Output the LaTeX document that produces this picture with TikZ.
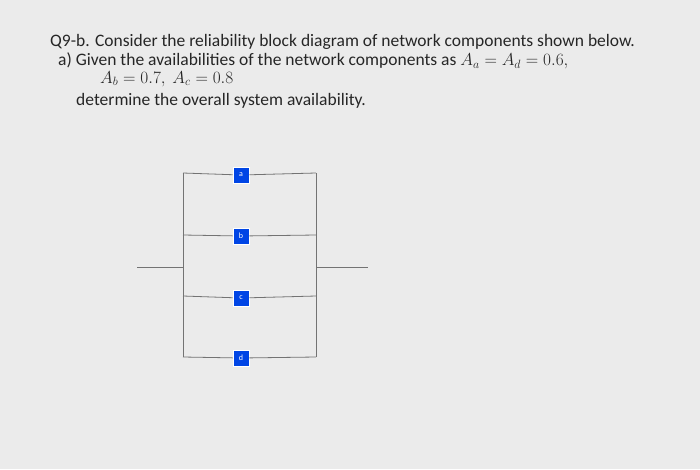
\documentclass[tikz,border=0pt]{standalone}
\usepackage{fontspec}
\setmainfont{Carlito}
\begin{document}
\begin{tikzpicture}[x=1pt,y=-1pt,
  txt/.style={anchor=west,inner sep=0,font=\fontsize{17.5}{18}\selectfont,text=black!85},
  blk/.style={draw=white,line width=0.8pt,fill=blue!70!cyan!90!black,minimum size=16pt,inner sep=0,text=white,font=\fontsize{8}{9}\selectfont},
  ln/.style={draw=black!55,line width=0.8pt}]
\fill[black!8] (0,0) rectangle (700,469);
\useasboundingbox (0,0) rectangle (700,469);
\node[txt] (t1) at (50,42) {Q9-b. Consider the reliability block diagram of network components shown below.};
\node[txt] (t2) at (58,61) {a) Given the availabilities of the network components as $A_a=A_d=0.6,$};
\node[txt] (t3) at (100,79) {$A_b=0.7,\ A_c=0.8$};
\node[txt] (t4) at (76,101) {determine the overall system availability.};
\coordinate (la) at (183,173); \coordinate (ra) at (316,173);
\coordinate (lb) at (183,235); \coordinate (rb) at (316,235);
\coordinate (lc) at (183,296); \coordinate (rc) at (316,296);
\coordinate (ld) at (183,357); \coordinate (rd) at (316,357);
\coordinate (lm) at (183,267); \coordinate (rm) at (316,267);
\coordinate (in) at (137,267); \coordinate (out) at (368,267);
\node[blk] (a) at (241,175) {a};
\node[blk] (b) at (241,236) {b};
\node[blk] (c) at (241,298) {c};
\node[blk] (d) at (241,358) {d};
\draw[ln] (la) -- (ld) (ra) -- (rd);
\draw[ln] (la) -- (a) -- (ra);
\draw[ln] (lb) -- (b) -- (rb);
\draw[ln] (lc) -- (c) -- (rc);
\draw[ln] (ld) -- (d) -- (rd);
\draw[ln] (in) -- (lm) (rm) -- (out);
\end{tikzpicture}
\end{document}
